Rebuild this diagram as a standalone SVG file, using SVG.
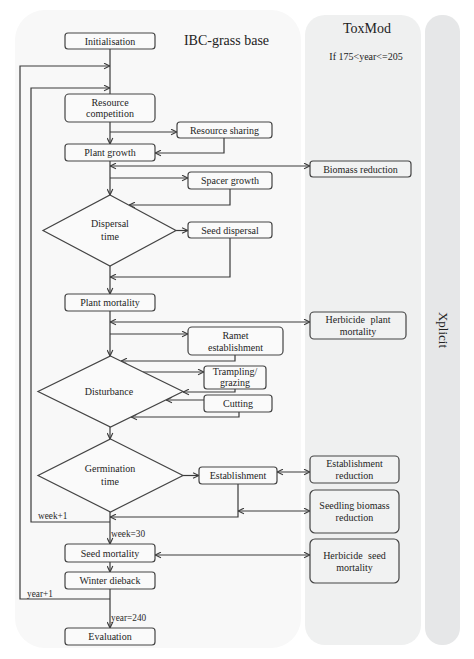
<svg xmlns="http://www.w3.org/2000/svg" width="474" height="659" viewBox="0 0 474 659">
<style>
.bx{fill:#fafafa;stroke:#444;stroke-width:1.2}
.bt{fill:#f1f2f2;stroke:#444;stroke-width:1.2}
.t{font-family:"Liberation Serif",serif;font-size:10px;fill:#1e1e1e;text-anchor:middle}
.lb{font-family:"Liberation Serif",serif;font-size:9.3px;fill:#2a2a2a}
.h{font-family:"Liberation Serif",serif;fill:#222;text-anchor:middle}
.c path{fill:none;stroke:#3a3a3a;stroke-width:1.2}
</style>
<defs>
<marker id="a" viewBox="0 0 10 10" refX="9.5" refY="5" markerWidth="7" markerHeight="7" orient="auto-start-reverse" markerUnits="userSpaceOnUse">
<path d="M1,1 L9.5,5 L1,9" fill="none" stroke="#3a3a3a" stroke-width="1.6"/>
</marker>
</defs>
<rect width="474" height="659" fill="#ffffff"/>
<g id="panel-ibc"><rect x="15" y="10" width="286" height="638" rx="30" fill="#f8f8f8"/>
<text class="h" x="226.5" y="45" font-size="14">IBC-grass base</text></g>
<g id="panel-toxmod"><rect x="305" y="15" width="116" height="630" rx="20" fill="#eff0f0"/>
<text class="h" x="367" y="33" font-size="14">ToxMod</text>
<text class="h" x="366" y="60" font-size="10">If 175&lt;year&lt;=205</text></g>
<g id="panel-xplicit"><rect x="425" y="15" width="35" height="630" rx="17" fill="#e6e7e8"/>
<text class="h" font-size="13" transform="translate(439,330) rotate(90)">Xplicit</text></g>

<g class="c" id="connectors">
<path d="M110,49 V94"/>
<path d="M110,599 H20 V66 H110" marker-end="url(#a)"/>
<path d="M110,522 H31 V88 H110" marker-end="url(#a)"/>
<path d="M110,122 V144" marker-end="url(#a)"/>
<path d="M110,132 H177" marker-end="url(#a)"/>
<path d="M224,138 V153 H155" marker-end="url(#a)"/>
<path d="M110,161 V195" marker-end="url(#a)"/>
<path d="M110,166 H310" marker-start="url(#a)" marker-end="url(#a)"/>
<path d="M110,178 H188" marker-end="url(#a)"/>
<path d="M230,189 V205 H129" marker-end="url(#a)"/>
<path d="M176,230.5 H188" marker-end="url(#a)"/>
<path d="M230,238 V277 H110" marker-end="url(#a)"/>
<path d="M110,266 V294" marker-end="url(#a)"/>
<path d="M110,311 V356" marker-end="url(#a)"/>
<path d="M110,322 H310" marker-start="url(#a)" marker-end="url(#a)"/>
<path d="M110,334 H188" marker-end="url(#a)"/>
<path d="M235,355 V361 H121" marker-end="url(#a)"/>
<path d="M143,372 H204" marker-end="url(#a)"/>
<path d="M235,389 V392 H183" marker-end="url(#a)"/>
<path d="M204,400 H166" marker-end="url(#a)"/>
<path d="M239,412 V417 H131" marker-end="url(#a)"/>
<path d="M110,427 V439" marker-end="url(#a)"/>
<path d="M183,475.5 H199" marker-end="url(#a)"/>
<path d="M277,472 H310" marker-start="url(#a)" marker-end="url(#a)"/>
<path d="M238,484 V517 H110" marker-end="url(#a)"/>
<path d="M238,511 H310" marker-start="url(#a)" marker-end="url(#a)"/>
<path d="M110,512 V544" marker-end="url(#a)"/>
<path d="M155,555 H310" marker-start="url(#a)" marker-end="url(#a)"/>
<path d="M110,562 V572" marker-end="url(#a)"/>
<path d="M110,589 V628" marker-end="url(#a)"/>
</g>
<g id="labels">
<text class="lb" x="38" y="519">week+1</text>
<text class="lb" x="111" y="537">week=30</text>
<text class="lb" x="27" y="597">year+1</text>
<text class="lb" x="111" y="621">year=240</text>
</g>

<g id="n-init"><rect class="bx" x="65" y="33" width="90" height="16" rx="3"/><text class="t" x="110" y="44.5">Initialisation</text></g>
<g id="n-rescomp"><rect class="bx" x="65" y="94" width="90" height="28" rx="4"/><text class="t" x="110" y="105.5">Resource</text><text class="t" x="110" y="117">competition</text></g>
<g id="n-resshare"><rect class="bx" x="177" y="122" width="95" height="16" rx="3"/><text class="t" x="224.5" y="133.5">Resource sharing</text></g>
<g id="n-plantgrowth"><rect class="bx" x="65" y="144" width="90" height="17" rx="3"/><text class="t" x="110" y="156">Plant growth</text></g>
<g id="n-biomass"><rect class="bt" x="310" y="161" width="101" height="16" rx="3"/><text class="t" x="360.5" y="172.5">Biomass reduction</text></g>
<g id="n-spacer"><rect class="bx" x="188" y="172" width="84" height="17" rx="3"/><text class="t" x="230" y="184">Spacer growth</text></g>
<g id="n-dispersaltime"><polygon class="bx" points="110,195 176,230.5 110,266 43,230.5"/><text class="t" x="110" y="227">Dispersal</text><text class="t" x="110" y="240">time</text></g>
<g id="n-seeddisp"><rect class="bx" x="188" y="222" width="84" height="16" rx="3"/><text class="t" x="230" y="233.5">Seed dispersal</text></g>
<g id="n-plantmort"><rect class="bx" x="65" y="294" width="90" height="17" rx="3"/><text class="t" x="110" y="306">Plant mortality</text></g>
<g id="n-herbplant"><rect class="bt" x="310" y="312" width="96" height="27" rx="4"/><text class="t" x="358" y="322.5" word-spacing="3">Herbicide plant</text><text class="t" x="358" y="335">mortality</text></g>
<g id="n-ramet"><rect class="bx" x="188" y="327" width="95" height="28" rx="4"/><text class="t" x="235.5" y="339">Ramet</text><text class="t" x="235.5" y="350.5">establishment</text></g>
<g id="n-disturbance"><polygon class="bx" points="110.5,356 183,391.5 110.5,427 38,391.5"/><text class="t" x="109" y="395">Disturbance</text></g>
<g id="n-trampling"><rect class="bx" x="204" y="366" width="62" height="23" rx="3"/><text class="t" x="235" y="375">Trampling/</text><text class="t" x="235" y="386">grazing</text></g>
<g id="n-cutting"><rect class="bx" x="204" y="395" width="68" height="17" rx="3"/><text class="t" x="238" y="407">Cutting</text></g>
<g id="n-germination"><polygon class="bx" points="110.5,439 183,475.5 110.5,512 38,475.5"/><text class="t" x="110" y="472">Germination</text><text class="t" x="110" y="485">time</text></g>
<g id="n-establishment"><rect class="bx" x="199" y="467" width="78" height="17" rx="3"/><text class="t" x="238" y="479">Establishment</text></g>
<g id="n-estred"><rect class="bt" x="310" y="456" width="89" height="27" rx="4"/><text class="t" x="354.5" y="467">Establishment</text><text class="t" x="354.5" y="479">reduction</text></g>
<g id="n-seedlingbio"><rect class="bt" x="310" y="490" width="89" height="43" rx="5"/><text class="t" x="354.5" y="509">Seedling biomass</text><text class="t" x="354.5" y="521">reduction</text></g>
<g id="n-herbseed"><rect class="bt" x="310" y="539" width="89" height="44" rx="5"/><text class="t" x="354.5" y="559" word-spacing="3">Herbicide seed</text><text class="t" x="354.5" y="571">mortality</text></g>
<g id="n-seedmort"><rect class="bx" x="65" y="544" width="90" height="18" rx="3"/><text class="t" x="110" y="556.5">Seed mortality</text></g>
<g id="n-winter"><rect class="bx" x="65" y="572" width="90" height="17" rx="3"/><text class="t" x="110" y="584">Winter dieback</text></g>
<g id="n-eval"><rect class="bx" x="65" y="628" width="90" height="17" rx="3"/><text class="t" x="110" y="640">Evaluation</text></g>
</svg>
